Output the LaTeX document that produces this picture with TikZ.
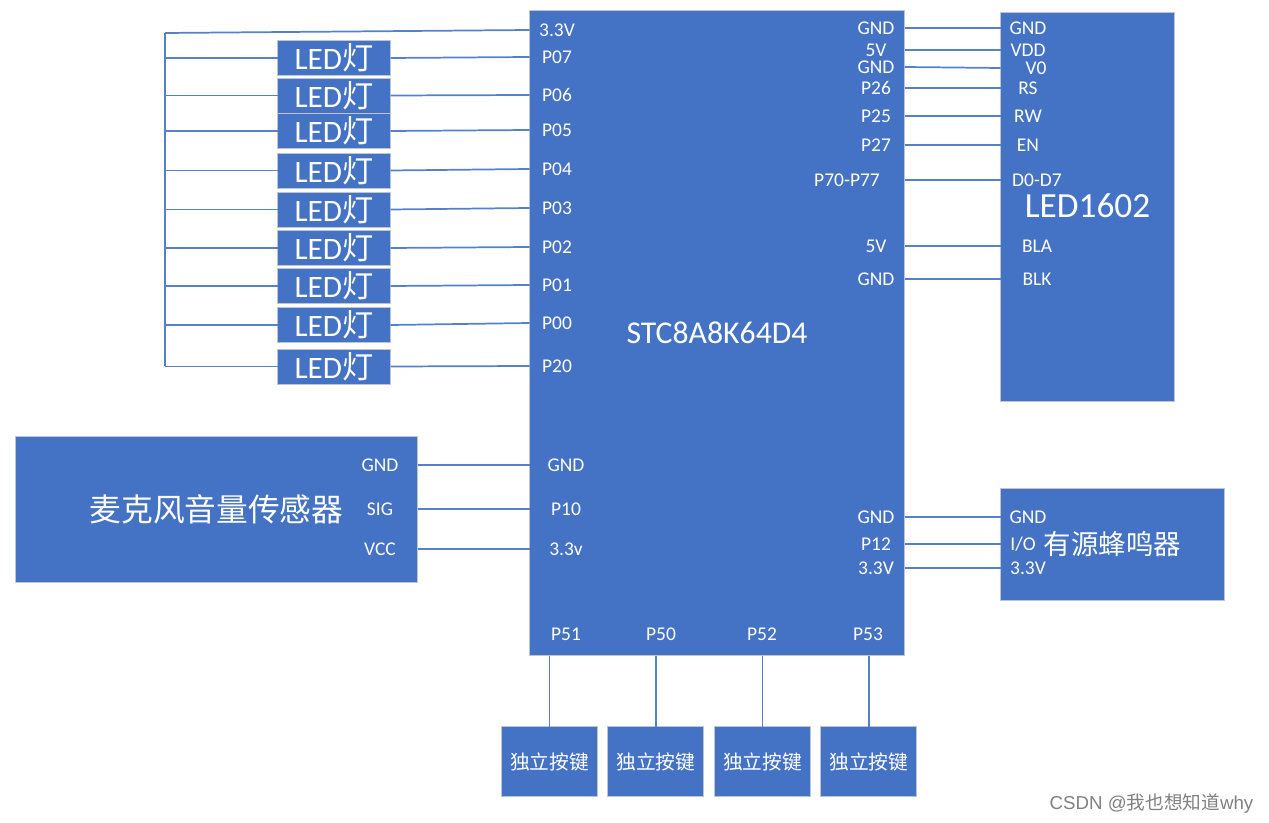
\documentclass[tikz,border=0pt]{standalone}
\usepackage{fontspec}
\setmainfont{Carlito}
\newfontfamily\cjk{Noto Sans CJK SC}
\newfontfamily\marksans{Liberation Sans}
\definecolor{boxblue}{HTML}{4472C4}
\definecolor{wireblue}{HTML}{5580CA}
\definecolor{boxedge}{HTML}{BFC5CF}
\tikzset{
    box/.style={draw=boxedge, fill=boxblue, text=white, line width=0.6pt, inner sep=0pt, outer sep=0pt},
    ledbox/.style={box, minimum width=84.75pt, minimum height=26.25pt, font=\fontsize{23.4}{23.4}\selectfont},
    keybox/.style={box, minimum width=72pt, minimum height=52.5pt, font=\fontsize{14.8}{14.8}\cjk},
    pinlabel/.style={text=white, inner sep=0pt, text height=9.3pt, text depth=0pt, font=\fontsize{14.6}{14.6}\selectfont},
    wire/.style={wireblue, line width=1.3pt}
}

\begin{document}
\begin{tikzpicture}[x=0.75pt,y=-0.75pt]

    \useasboundingbox (0,0) rectangle (1269,823);

    \node[box, minimum width=281.25pt, minimum height=483.75pt, font=\fontsize{23.8}{23.8}\selectfont] (chip) at (717,333) {STC8A8K64D4};
    \node[box, minimum width=130.5pt, minimum height=291.75pt, font=\fontsize{26.5}{26.5}\selectfont] (lcd) at (1087.5,207) {\raisebox{1.5pt}{LED1602}};
    \node[box, minimum width=301.5pt, minimum height=109.5pt, font=\fontsize{23.8}{23.8}\cjk] (mic) at (216.5,509.5) {麦克风音量传感器};
    \node[box, minimum width=168pt, minimum height=84pt, font=\fontsize{20.6}{20.6}\cjk] (buzzer) at (1112.5,544.5) {有源蜂鸣器};

    % LED row
    \coordinate (bust) at (165,33);
    \coordinate (busb) at (165,366);
    \foreach \n/\y in {1/58,2/95.5,3/131,4/170.5,5/209.5,6/248,7/286,8/325,9/366.5}
        \node[ledbox] (led\n) at (334,\y) {LED{\cjk 灯}};

    % pins on the chip
    \foreach \n/\x/\y/\t in {p33/557/30/3.3V,
        pa/557/57/P07,pb/557/95/P06,pc/557/130/P05,pd/557/169/P04,pe/557/208/P03,
        pf/557/247/P02,pg/557/285/P01,ph/557/323/P00,pi/557/366/P20,
        cg/566/465/GND,cs/566/509/P10,cv/566/549/3.3v,
        da/876/28/GND,db/876/50/5V,dc/876/67/GND,dd/876/88/P26,de/876/116/P25,
        df/876/145/P27,dg/847/180/P70-P77,dh/876/246/5V,di/876/279/GND,
        ea/876/517/GND,eb/876/544/P12,ec/876/568/3.3V,
        ka/566/634/P51,kb/661/634/P50,kc/762/634/P52,kd/868/634/P53}
        \node[pinlabel] (\n) at (\x,\y) {\t};

    % pins on the modules
    \foreach \n/\x/\y/\t in {la/1028/28/GND,lb/1028/50/VDD,lc/1036/68/V0,ld/1028/88/RS,le/1028/116/RW,
        lf/1028/145/EN,lg/1037/180/D0-D7,lh/1037/246/BLA,li/1037/279/BLK,
        ma/380/465/GND,mb/380/509/SIG,mc/380/549/VCC,
        ba/1028/517/GND,bb/1023/544/{I/O},bc/1028/568/3.3V}
        \node[pinlabel] (\n) at (\x,\y) {\t};

    \foreach \n/\x in {1/549.5,2/655.8,3/762.5,4/868.8}
        \node[keybox] (key\n) at (\x,761.7) {独立按键};

    \draw[wire] (bust) -- (busb);
    \draw[wire] (bust) -- (chip.west |- p33);
    \foreach \n/\p in {1/pa,2/pb,3/pc,4/pd,5/pe,6/pf,7/pg,8/ph,9/pi} {
        \draw[wire] (bust |- led\n) -- (led\n.west);
        \draw[wire] (led\n.east) -- (chip.west |- \p);
    }
    \foreach \a/\b in {da/la,db/lb,dc/lc,dd/ld,de/le,df/lf,dg/lg,dh/lh,di/li}
        \draw[wire] (chip.east |- \a) -- (lcd.west |- \b);
    \foreach \a/\b in {ma/cg,mb/cs,mc/cv}
        \draw[wire] (mic.east |- \a) -- (chip.west |- \b);
    \foreach \a/\b in {ea/ba,eb/bb,ec/bc}
        \draw[wire] (chip.east |- \a) -- (buzzer.west |- \b);
    \foreach \n/\p in {1/ka,2/kb,3/kc,4/kd}
        \draw[wire] (chip.south -| key\n) -- (key\n.north);

    \node[text=gray, inner sep=0pt, font=\fontsize{14}{14}\marksans] (mark) at (1151.5,804) {CSDN @{\cjk 我也想知道}why};

\end{tikzpicture}
\end{document}
